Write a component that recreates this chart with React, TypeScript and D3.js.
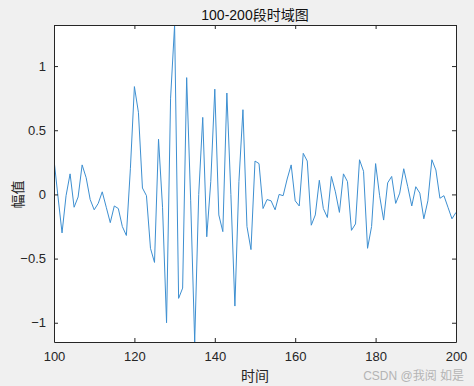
import React, { useEffect, useRef } from 'react';
import * as d3 from 'd3';

// sample index runs 100..200, one value per step
const startIndex = 100;
const amplitude = [
  0.27, -0.02, -0.30, -0.01, 0.16, -0.10, -0.02, 0.23, 0.13, -0.04,
  -0.12, -0.07, 0.02, -0.10, -0.22, -0.09, -0.11, -0.25, -0.32, 0.20,
  0.84, 0.64, 0.05, -0.01, -0.42, -0.53, 0.43, -0.10, -1.0, 0.75,
  1.32, -0.81, -0.73, 0.91, -0.05, -1.15, 0.0, 0.60, -0.33, 0.1,
  0.82, -0.16, -0.29, 0.79, 0.0, -0.87, 0.1, 0.66, -0.25, -0.43,
  0.26, 0.24, -0.11, -0.04, -0.05, -0.12, 0.0, -0.01, 0.12, 0.23,
  -0.05, -0.09, 0.32, 0.26, -0.24, -0.16, 0.11, -0.11, -0.18, 0.14,
  0.02, -0.14, 0.16, 0.10, -0.28, -0.23, 0.27, 0.18, -0.42, -0.25,
  0.24, -0.01, -0.20, 0.09, 0.14, -0.07, 0.01, 0.20, 0.06, -0.09,
  0.06, 0.01, -0.19, -0.05, 0.27, 0.19, -0.03, -0.01, -0.10, -0.19,
  -0.14,
];
const xTicks = [100, 120, 140, 160, 180, 200];
const yTicks = [-1, -0.5, 0, 0.5, 1];

const W = 474;
const H = 386;
const margin = { top: 25, right: 18, bottom: 44, left: 54 };
const font = 'Arial, "Liberation Sans", "Noto Sans CJK SC", sans-serif';

const App = () => {
  const svgRef = useRef<SVGSVGElement>(null);

  useEffect(() => {
    const svg = d3.select(svgRef.current);
    svg.selectAll('*').remove();

    const width = W - margin.left - margin.right;
    const height = H - margin.top - margin.bottom;
    const data = amplitude.map((v, i) => ({ x: startIndex + i, y: v }));

    const x = d3.scaleLinear().domain([100, 200]).range([0, width]);
    const y = d3.scaleLinear().domain(d3.extent(amplitude) as [number, number]).range([height, 0]);

    svg.append('rect').attr('width', W).attr('height', H).attr('fill', '#f0f0f0');

    const g = svg.append('g').attr('transform', `translate(${margin.left},${margin.top})`);
    g.append('rect').attr('width', width).attr('height', height).attr('fill', '#fff');

    const defs = svg.append('defs');
    defs.append('clipPath').attr('id', 'clip')
      .append('rect').attr('width', width).attr('height', height);

    const line = d3.line<{ x: number; y: number }>().x((d) => x(d.x)).y((d) => y(d.y));
    g.append('path')
      .datum(data)
      .attr('clip-path', 'url(#clip)')
      .attr('d', line)
      .attr('fill', 'none')
      .attr('stroke', '#3d8fd1')
      .attr('stroke-width', 1);

    const axisColor = '#262626';
    const tickLen = 4;

    const styleAxis = (sel: any) => {
      sel.select('.domain').attr('stroke', axisColor);
      sel.selectAll('.tick line').attr('stroke', axisColor);
      sel.selectAll('.tick text').attr('fill', axisColor).attr('font-size', 13).attr('font-family', font);
    };

    g.append('g')
      .attr('transform', `translate(0,${height})`)
      .call(d3.axisBottom(x).tickValues(xTicks).tickSizeInner(-tickLen).tickSizeOuter(0).tickPadding(10))
      .call(styleAxis);
    g.append('g')
      .call(d3.axisTop(x).tickValues(xTicks).tickSizeInner(-tickLen).tickSizeOuter(0).tickFormat(() => ''))
      .call(styleAxis);
    g.append('g')
      .call(d3.axisLeft(y).tickValues(yTicks).tickSizeInner(-tickLen).tickSizeOuter(0).tickPadding(8)
        .tickFormat((d) => d3.format('')(d as number)))
      .call(styleAxis);
    g.append('g')
      .attr('transform', `translate(${width},0)`)
      .call(d3.axisRight(y).tickValues(yTicks).tickSizeInner(-tickLen).tickSizeOuter(0).tickFormat(() => ''))
      .call(styleAxis);

    svg.append('text')
      .attr('x', margin.left + width / 2).attr('y', 20)
      .attr('text-anchor', 'middle').attr('font-size', 14).attr('font-family', font)
      .attr('fill', '#111').text('100-200段时域图');

    svg.append('text')
      .attr('x', margin.left + width / 2).attr('y', 381)
      .attr('text-anchor', 'middle').attr('font-size', 14).attr('font-family', font)
      .attr('fill', axisColor).text('时间');

    svg.append('text')
      .attr('transform', `translate(23,${margin.top + y(0)}) rotate(-90)`)
      .attr('text-anchor', 'middle').attr('font-size', 14).attr('font-family', font)
      .attr('fill', axisColor).text('幅值');

    svg.append('text')
      .attr('x', 464).attr('y', 380)
      .attr('text-anchor', 'end').attr('font-size', 12).attr('font-family', font)
      .attr('fill', '#b4b4b4').text('CSDN @我阅 如是');
  }, []);

  return (
    <div style={{ position: 'absolute', left: 0, top: 0 }}>
      <svg ref={svgRef} width={W} height={H} style={{ display: 'block' }}></svg>
    </div>
  );
};

export default App;
